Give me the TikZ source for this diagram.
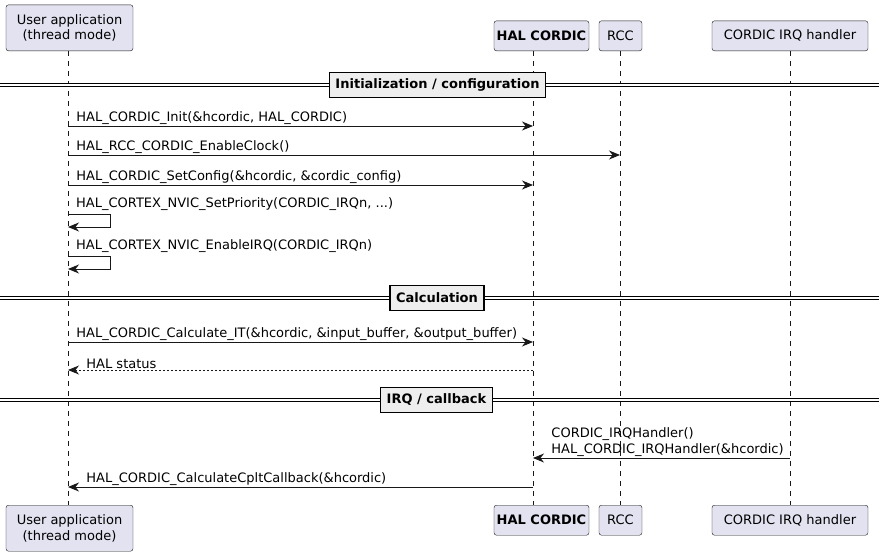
\documentclass[tikz,border=0pt]{standalone}
\usepackage{fontspec}
\setmainfont{DejaVu Sans}
\usetikzlibrary{arrows.meta,positioning}
\definecolor{partfill}{HTML}{E2E2F0}
\definecolor{sepfill}{HTML}{EEEEEE}
\definecolor{ink}{HTML}{181818}

\begin{document}
\begin{tikzpicture}[x=1pt,y=-1pt,
  every node/.style={font=\fontsize{13}{15.5}\selectfont},
  part/.style={draw=ink,fill=partfill,rounded corners=2.5pt,inner sep=0pt,
    minimum height=30pt,align=center},
  life/.style={draw=ink,line width=0.6pt,dash pattern=on 5pt off 5pt},
  sep/.style={draw=black,fill=sepfill,line width=1.4pt,inner xsep=6pt,
    minimum height=25pt,font=\fontsize{13}{15.5}\selectfont\bfseries},
  sepline/.style={double,double distance=2pt,line width=0.9pt},
  msg/.style={draw=ink,line width=0.9pt,-{Stealth[length=11pt,width=9pt,inset=3.5pt]}},
  ret/.style={msg,dash pattern=on 2pt off 2pt},
  lbl/.style={anchor=south west,inner sep=1pt,align=left}]
\useasboundingbox (0,0) rectangle (879,555);

% participants, top and bottom
\node[part,minimum width=127pt,minimum height=46pt,anchor=south] (user) at (69.5,51) {User application\\(thread mode)};
\node[part,minimum width=95pt,anchor=south,font=\fontsize{13}{15.5}\selectfont\bfseries] (hal) at (541.5,51) {HAL CORDIC};
\node[part,minimum width=43pt,anchor=south] (rcc) at (620.5,51) {RCC};
\node[part,minimum width=156pt,anchor=south] (irq) at (790,51) {CORDIC IRQ handler};
\node[part,minimum width=127pt,minimum height=46pt,anchor=north] (userb) at (69.5,505) {User application\\(thread mode)};
\node[part,minimum width=95pt,anchor=north,font=\fontsize{13}{15.5}\selectfont\bfseries] (halb) at (541.5,505) {HAL CORDIC};
\node[part,minimum width=43pt,anchor=north] (rccb) at (620.5,505) {RCC};
\node[part,minimum width=156pt,anchor=north] (irqb) at (790,505) {CORDIC IRQ handler};

% lifelines
\draw[life] (68,51) -- (68,505);
\draw[life] (533,51) -- (533,505);
\draw[life] (620,51) -- (620,505);
\draw[life] (790,51) -- (790,505);
\coordinate (lu) at (68,0);
\coordinate (lh) at (533,0);
\coordinate (lr) at (620,0);
\coordinate (li) at (790,0);

% initialization / configuration
\draw[sepline] (0,85) -- (879,85);
\node[sep] (init) at (437.5,85) {Initialization / configuration};

\draw[msg] (lu |- 0,126) -- (lh |- 0,126)
  node[lbl,pos=0,xshift=7pt] {HAL\_CORDIC\_Init(\&hcordic, HAL\_CORDIC)};
\draw[msg] (lu |- 0,155) -- (lr |- 0,155)
  node[lbl,pos=0,xshift=7pt] {HAL\_RCC\_CORDIC\_EnableClock()};
\draw[msg] (lu |- 0,185) -- (lh |- 0,185)
  node[lbl,pos=0,xshift=7pt] {HAL\_CORDIC\_SetConfig(\&hcordic, \&cordic\_config)};
\draw[msg] (lu |- 0,214) -- ++(42,0) -- ++(0,13) -- (lu |- 0,227);
\node[lbl] (prio) at (75,212) {HAL\_CORTEX\_NVIC\_SetPriority(CORDIC\_IRQn, ...)};
\draw[msg] (lu |- 0,256) -- ++(42,0) -- ++(0,13) -- (lu |- 0,269);
\node[lbl] (enirq) at (75,254) {HAL\_CORTEX\_NVIC\_EnableIRQ(CORDIC\_IRQn)};

% calculation
\draw[sepline] (0,298) -- (879,298);
\node[sep] (calc) at (437,298) {Calculation};

\draw[msg] (lu |- 0,342) -- (lh |- 0,342)
  node[lbl,pos=0,xshift=7pt] {HAL\_CORDIC\_Calculate\_IT(\&hcordic, \&input\_buffer, \&output\_buffer)};
\draw[ret] (lh |- 0,370) -- (lu |- 0,370)
  node[lbl,pos=1,xshift=17pt] {HAL status};

% irq / callback
\draw[sepline] (0,400) -- (879,400);
\node[sep] (cb) at (436.5,400) {IRQ / callback};

\draw[msg] (li |- 0,458) -- (lh |- 0,458)
  node[lbl,pos=1,xshift=17pt] {CORDIC\_IRQHandler()\\HAL\_CORDIC\_IRQHandler(\&hcordic)};
\draw[msg] (lh |- 0,487) -- (lu |- 0,487)
  node[lbl,pos=1,xshift=17pt] {HAL\_CORDIC\_CalculateCpltCallback(\&hcordic)};
\end{tikzpicture}
\end{document}
